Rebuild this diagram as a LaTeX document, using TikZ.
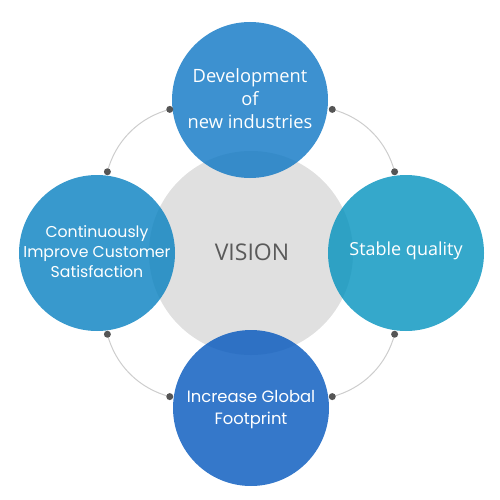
\documentclass[tikz,border=0pt]{standalone}
\usepackage{fontspec}
\usetikzlibrary{calc}
\setmainfont{Open Sans}
\newfontfamily\gothfont{Poppins}
\definecolor{ctop}{RGB}{12,118,196}
\definecolor{cleft}{RGB}{6,128,192}
\definecolor{cright}{RGB}{2,146,190}
\definecolor{cbottom}{RGB}{2,86,189}
\definecolor{cgrey}{RGB}{224,224,224}
\definecolor{cring}{RGB}{205,205,205}
\definecolor{cdot}{RGB}{85,85,85}
\definecolor{cvision}{RGB}{90,90,90}
\tikzset{
  bluecirc/.style={circle,minimum size=156pt,inner sep=0pt,fill opacity=0.8,text opacity=1,text=white,align=center},
  ringarc/.style={draw=cring,line width=1pt},
  dotpt/.style={circle,fill=cdot,minimum size=7pt,inner sep=0pt},
}
\begin{document}
\begin{tikzpicture}[x=1pt,y=-1pt]
\useasboundingbox (0,0) rectangle (500,500);
\coordinate (o) at (251,253);
% dots on the ring
\foreach \n/\a in {tl/119.5,lt/150.5,lb/209.5,bl/240.5,br/299.5,rb/330.5,rt/29.5,tr/60.5}{
  \coordinate (\n) at ($(o)+(\a:165pt)$);
}
\draw[ringarc] (tl) to[bend right=30.5,looseness=0.92] (lt);
\draw[ringarc] (lb) to[bend right=30.5,looseness=0.92] (bl);
\draw[ringarc] (br) to[bend right=30.5,looseness=0.92] (rb);
\draw[ringarc] (rt) to[bend right=30.5,looseness=0.92] (tr);
\node[circle,fill=cgrey,minimum size=204pt,inner sep=0pt] (vision) at (251,253) {};
\node[text=cvision,font=\fontsize{23}{23}\selectfont] (vtext) at (252,252) {VISION};
\node[bluecirc,fill=ctop] (top) at (250,100) {};
\node[bluecirc,fill=cleft] (left) at (97,253) {};
\node[bluecirc,fill=cright] (right) at (406,253) {};
\node[bluecirc,fill=cbottom] (bottom) at (251,408) {};
\node[text=white,align=center,font=\fontsize{18.3}{23}\selectfont] (toptext) at (250,99) {Development\\of\\new industries};
\node[text=white,align=center,font=\gothfont\fontsize{15.7}{20}\selectfont] (lefttext) at (97,252) {Continuously\\Improve Customer\\Satisfaction};
\node[text=white,align=center,font=\fontsize{18}{22}\selectfont] (righttext) at (406,251) {Stable quality};
\node[text=white,align=center,font=\gothfont\fontsize{16.4}{22}\selectfont] (bottomtext) at (251,410) {Increase Global\\Footprint};
\foreach \n in {tl,lt,lb,bl,br,rb,rt,tr}{
  \node[dotpt] (dot\n) at (\n) {};
}
\end{tikzpicture}
\end{document}
